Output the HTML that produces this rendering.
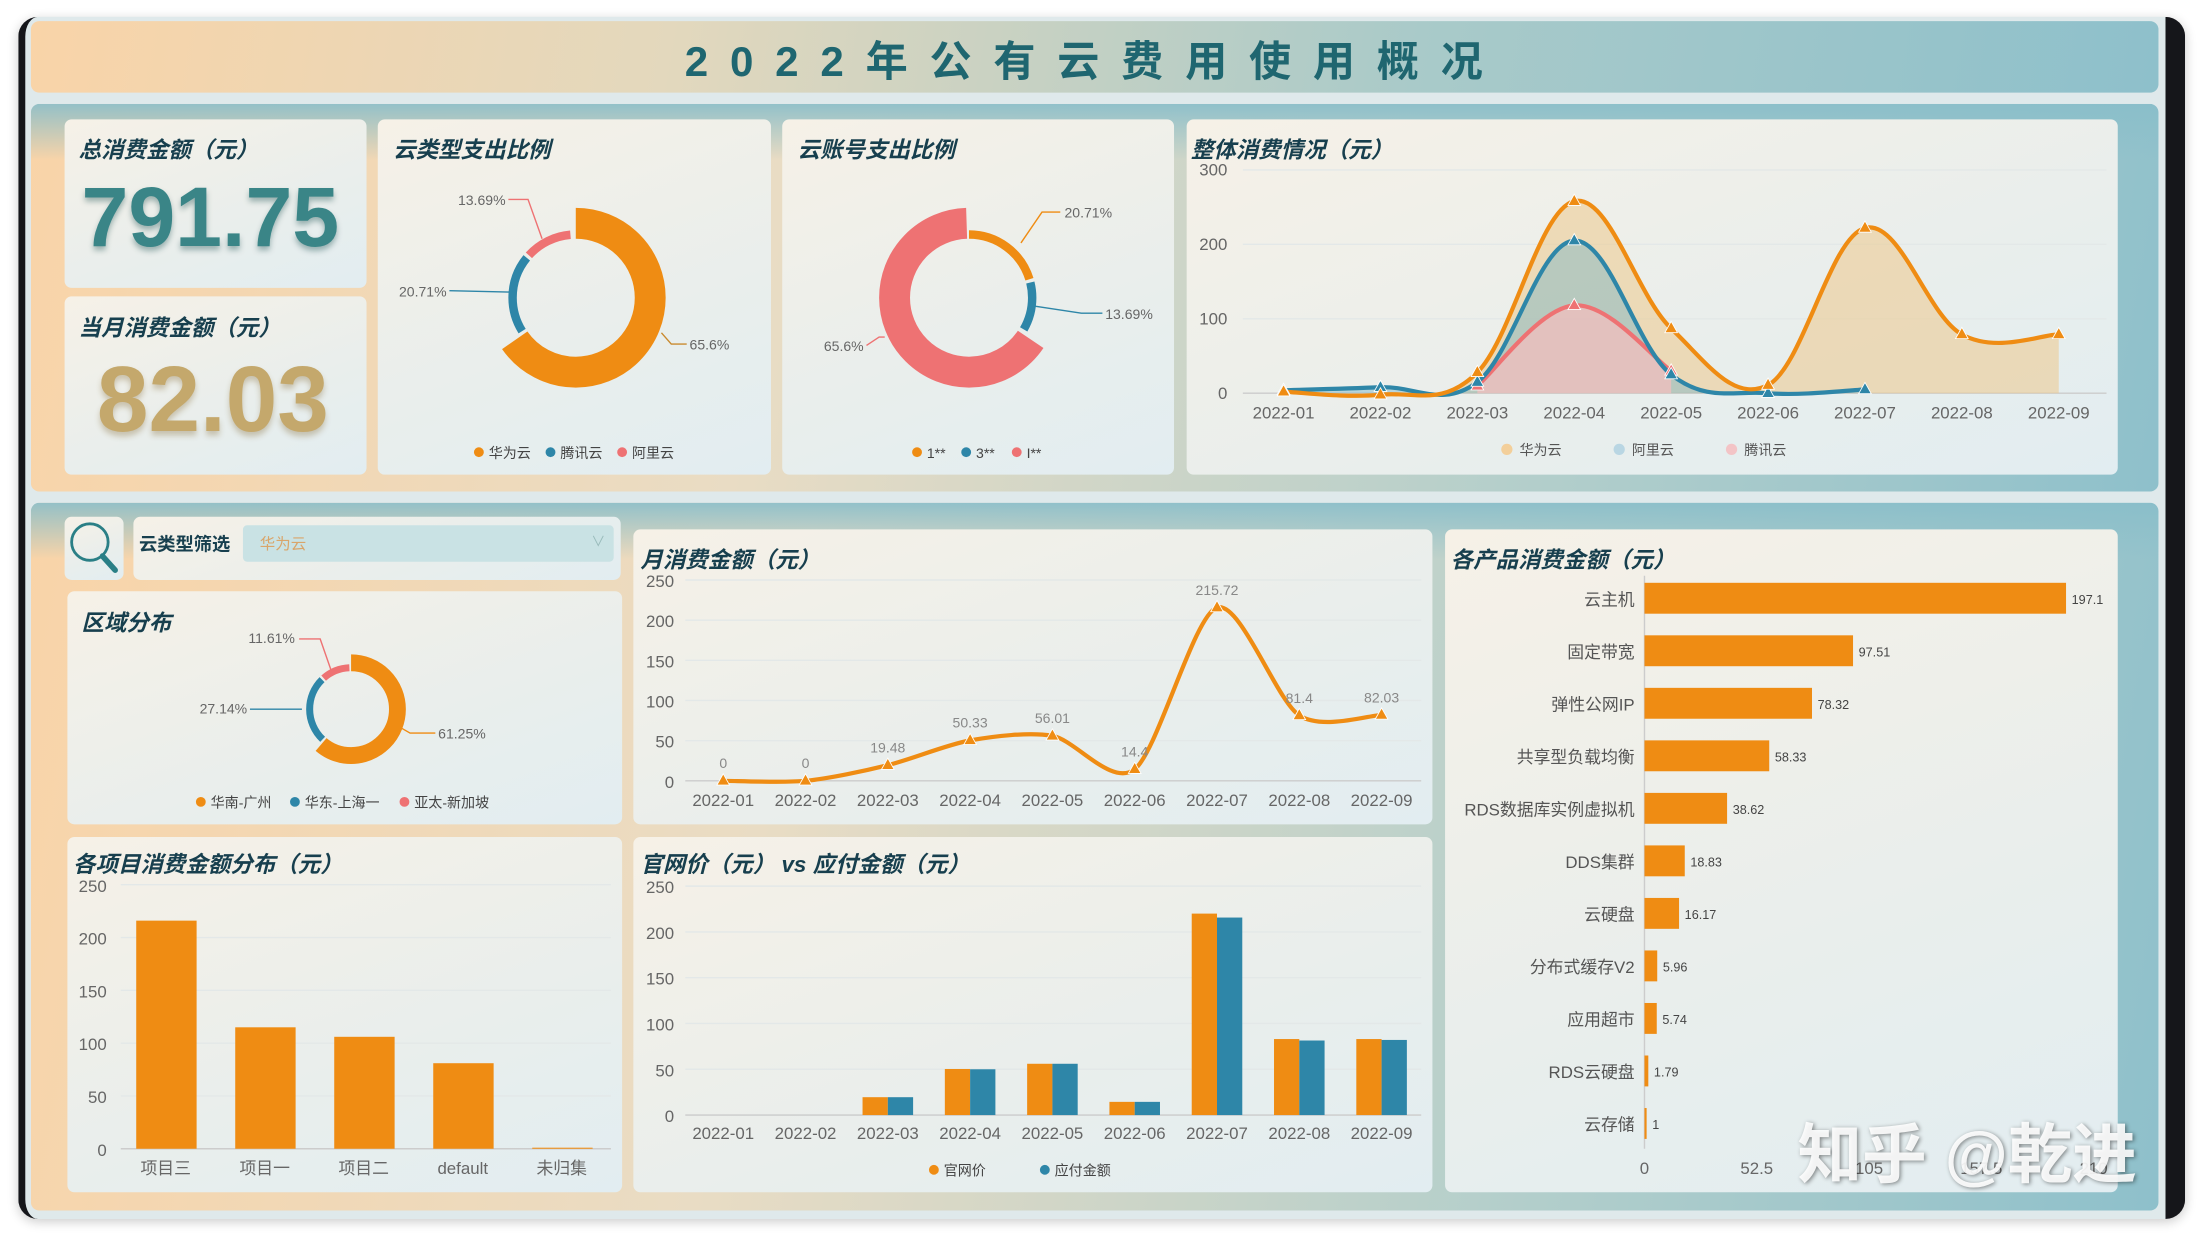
<!DOCTYPE html>
<html><head><meta charset="utf-8">
<style>
*{margin:0;padding:0;box-sizing:border-box}
body{width:2202px;height:1238px;background:#fff;overflow:hidden;font-family:"Liberation Sans","Noto Sans CJK SC",sans-serif}
#w{position:absolute;left:0;top:0;width:1568px;height:882px;transform:scale(1.40434);transform-origin:0 0}
.abs{position:absolute}
.frame{left:13px;top:12px;width:1543px;height:856px;background:#dfe9eb;border-radius:14px;border-left:5px solid #15161a;border-right:14px solid #15161a;box-shadow:0 2px 8px rgba(0,0,0,.2)}
.band{background:linear-gradient(100deg,#f9d4a8 0%,#ead9bf 35%,#b8cfca 70%,#8ec0cb 100%);border-radius:6px}
.band2{background:linear-gradient(180deg,rgba(137,190,202,.9) 0,rgba(137,190,202,0) 40px),linear-gradient(100deg,#f9d4a8 0%,#e9dcc4 35%,#b5cfcb 70%,#8ec0cb 100%);border-radius:6px}
.card{background:linear-gradient(160deg,#f6f1e7 0%,#e9eeec 60%,#e2edf1 100%);border-radius:5px}
.t{position:absolute;font-style:italic;font-weight:bold;color:#173f4e;font-size:16px;white-space:nowrap}
svg text{font-family:"Liberation Sans","Noto Sans CJK SC",sans-serif}
</style></head><body>
<div id="w">
<div class="abs frame"></div>
<div class="abs band" style="left:22px;top:15px;width:1515px;height:51px;background:linear-gradient(100deg,#f9d4a8 0%,#e3d8bd 30%,#a9cac9 65%,#8ec0cb 100%)"></div>
<div class="abs" style="left:22px;top:19px;width:1515px;text-align:center;font-size:30px;font-weight:bold;color:#1f6670;letter-spacing:15.5px">2022年公有云费用使用概况</div>
<div class="abs band2" style="left:22px;top:74px;width:1515px;height:276px"></div>
<div class="abs band2" style="left:22px;top:358px;width:1515px;height:504px"></div>

<div class="abs card" style="left:46px;top:85px;width:215px;height:120px"></div>
<div class="t" style="left:56px;top:93px">总消费金额（元）</div>
<div class="abs" style="left:58px;top:120px;font-size:60px;font-weight:bold;color:#3a8587;text-shadow:0 3px 4px rgba(0,60,60,.35)">791.75</div>
<div class="abs card" style="left:46px;top:211px;width:215px;height:127px"></div>
<div class="t" style="left:56px;top:220px">当月消费金额（元）</div>
<div class="abs" style="left:69px;top:246px;font-size:66px;font-weight:bold;color:#c4a86c;text-shadow:0 3px 4px rgba(120,90,30,.3)">82.03</div>

<div class="abs card" style="left:269px;top:85px;width:280px;height:253px"></div>
<div class="t" style="left:280px;top:93px">云类型支出比例</div>
<div class="abs card" style="left:557px;top:85px;width:279px;height:253px"></div>
<div class="t" style="left:568px;top:93px">云账号支出比例</div>
<div class="abs card" style="left:845px;top:85px;width:663px;height:253px"></div>
<div class="t" style="left:848px;top:93px">整体消费情况（元）</div>

<div class="abs card" style="left:46px;top:368px;width:42px;height:45px"></div>
<div class="abs card" style="left:95px;top:368px;width:347px;height:45px"></div>
<div class="abs" style="left:99px;top:377px;font-size:13px;font-weight:bold;color:#173f4e">云类型筛选</div>
<div class="abs" style="left:173px;top:374px;width:264px;height:26px;background:#c9e2e4;border-radius:3px"></div>
<div class="abs" style="left:185px;top:379px;font-size:11px;color:#d9a56a">华为云</div>
<div class="abs" style="left:421px;top:377px;font-size:10px;color:#9bb">∨</div>
<div class="abs card" style="left:48px;top:421px;width:395px;height:166px"></div>
<div class="t" style="left:58px;top:430px">区域分布</div>
<div class="abs card" style="left:451px;top:377px;width:569px;height:210px"></div>
<div class="t" style="left:456px;top:385px">月消费金额（元）</div>
<div class="abs card" style="left:48px;top:596px;width:395px;height:253px"></div>
<div class="t" style="left:52px;top:602px">各项目消费金额分布（元）</div>
<div class="abs card" style="left:451px;top:596px;width:569px;height:253px"></div>
<div class="t" style="left:456px;top:602px">官网价（元） vs 应付金额（元）</div>
<div class="abs card" style="left:1029px;top:377px;width:479px;height:472px"></div>
<div class="t" style="left:1033px;top:385px">各产品消费金额（元）</div>

<svg class="abs" style="left:0;top:0" width="1568" height="882" id="s">
<circle cx="64" cy="386" r="13" fill="none" stroke="#2a7f86" stroke-width="2"/>
<line x1="73" y1="396" x2="82" y2="406" stroke="#2a7f86" stroke-width="4" stroke-linecap="round"/>
</svg>
<div class="abs" style="left:1280px;top:786px;font-size:46px;font-weight:bold;color:rgba(255,255,255,.9);text-shadow:1px 1px 3px rgba(0,0,0,.45);white-space:nowrap">知乎 @乾进</div>
</div>
<script>
var s=document.getElementById('s'),h='';
var O='#ef8c13',B='#2e86a8',P='#ee7273',G='#666';
function tx(x,y,t,sz,c,a){h+='<text x="'+x+'" y="'+y+'" font-size="'+sz+'" fill="'+(c||G)+'" text-anchor="'+(a||'middle')+'">'+t+'</text>';}
function ln(x1,y1,x2,y2,c,w){h+='<line x1="'+x1+'" y1="'+y1+'" x2="'+x2+'" y2="'+y2+'" stroke="'+c+'" stroke-width="'+(w||1)+'"/>';}
function donut(cx,cy,segs){var C;segs.forEach(function(g){var r=(g[2]+g[3])/2,w=g[3]-g[2];C=2*Math.PI*r;var a0=g[0],a1=g[1];h+='<circle cx="'+cx+'" cy="'+cy+'" r="'+r+'" fill="none" stroke="'+g[4]+'" stroke-width="'+w+'" stroke-dasharray="'+(C*(a1-a0)/360)+' '+C+'" stroke-dashoffset="'+(-C*a0/360)+'" transform="rotate(-90 '+cx+' '+cy+')"/>';});}
function lab(pts,t,c,x,y,a){h+='<polyline points="'+pts+'" fill="none" stroke="'+c+'" stroke-width="1"/>';tx(x,y,t,10,G,a);}
function leg(items,y){items.forEach(function(it){h+='<circle cx="'+it[0]+'" cy="'+y+'" r="3.5" fill="'+it[2]+'"/>';tx(it[0]+7,y+4,it[1],10,'#444','start');});}
donut(410,212,[[0,235,42,64,O],[238,309,42,48,B],[312,355,42,48,P]]);
lab('362,142 376,142 386,170','13.69%',P,360,146,'end');
lab('320,207 365,208','20.71%',B,318,211,'end');
lab('471,237 478,245 489,245','65.6%','#c98a2e',491,249,'start');
leg([[341,'华为云',O],[392,'腾讯云',B],[443,'阿里云',P]],322);
donut(690,212,[[0,73,42,48,O],[76,120,42,48,B],[124,358,42,64,P]]);
lab('727,173 742,151 755,151','20.71%',O,758,155,'start');
lab('737,218 770,223 785,223','13.69%',B,787,227,'start');
lab('617,246 626,240 630,240','65.6%',P,615,250,'end');
leg([[653,'1**',O],[688,'3**',B],[724,'I**',P]],322);
donut(250,505,[[0,220,27,39,O],[223,315,27,32,B],[318,357,27,32,P]]);
lab('213,455 228,455 236,478','11.61%',P,210,458,'end');
lab('178,505 215,505','27.14%',B,176,508,'end');
lab('285,518 292,522 310,522','61.25%',O,312,526,'start');
leg([[143,'华南-广州',O],[210,'华东-上海一',B],[288,'亚太-新加坡',P]],571);
function sm(p,kk){var d='M'+p[0][0]+','+p[0][1];for(var i=0;i<p.length-1;i++){var p0=p[i-1]||p[i],p1=p[i],p2=p[i+1],p3=p[i+2]||p2,k=kk||0.18;d+=' C'+(p1[0]+(p2[0]-p0[0])*k)+','+(p1[1]+(p2[1]-p0[1])*k)+' '+(p2[0]-(p3[0]-p1[0])*k)+','+(p2[1]-(p3[1]-p1[1])*k)+' '+p2[0]+','+p2[1];}return d;}
function tri(x,y,c){h+='<path d="M'+x+','+(y-5)+' L'+(x+4.5)+','+(y+3)+' L'+(x-4.5)+','+(y+3)+'Z" fill="'+c+'" stroke="#fff" stroke-width=".6"/>';}
var y0=280,k=0.53;
[0,100,200,300].forEach(function(v){var y=y0-v*k;ln(885,y,1500,y,'#e3e8e8');tx(874,y+4,v,12,G,'end');});
ln(885,y0,1500,y0,'#ccc');
var mo=['2022-01','2022-02','2022-03','2022-04','2022-05','2022-06','2022-07','2022-08','2022-09'];
function serie(start,vals,c,fill,xs,x0,yy,kk){var p=vals.map(function(v,i){return[x0+(start+i)*xs,yy-v*kk];});var d=sm(p);h+='<path d="'+d+' L'+p[p.length-1][0]+','+yy+' L'+p[0][0]+','+yy+'Z" fill="'+fill+'"/>';return p;}
var po=serie(0,[2,-2,28,258,87,11,222,79,79],O,'rgba(236,200,140,.55)',69,914,y0,k);
var pb=serie(0,[4,8,15,205,25,0,5],B,'rgba(120,180,200,.45)',69,914,y0,k);
var pp=serie(2,[10,118,30],P,'rgba(245,190,190,.7)',69,914,y0,k);
[[pp,P],[pb,B],[po,O]].forEach(function(q){h+='<path d="'+sm(q[0])+'" fill="none" stroke="'+q[1]+'" stroke-width="3"/>';});
[[pp,P],[pb,B],[po,O]].forEach(function(q){q[0].forEach(function(p){tri(p[0],p[1],q[1]);});});
mo.forEach(function(m,i){tx(914+69*i,298,m,12,G);});
[[1073,'华为云','#f3cf9a'],[1153,'阿里云','#b9d6e3'],[1233,'腾讯云','#f3c4c6']].forEach(function(it){h+='<circle cx="'+it[0]+'" cy="320" r="4" fill="'+it[2]+'"/>';tx(it[0]+9,324,it[1],10,'#555','start');});
y0=556;k=0.572;
[0,50,100,150,200,250].forEach(function(v){var y=y0-v*k;ln(488,y,1012,y,'#e3e8e8');tx(480,y+5,v,12,G,'end');});
ln(488,y0,1012,y0,'#ccc');
var mv=[0,0,19.48,50.33,56.01,14.4,215.72,81.4,82.03];
var pm=mv.map(function(v,i){return[515+58.6*i,y0-v*k];});
h+='<path d="'+sm(pm,0.14)+'" fill="none" stroke="'+O+'" stroke-width="3"/>';
pm.forEach(function(p,i){tri(p[0],p[1],O);tx(p[0],p[1]-9,mv[i],10,'#888');tx(p[0],574,mo[i],12,G);});
y0=818;k=0.752;
[0,50,100,150,200,250].forEach(function(v){var y=y0-v*k;ln(86,y,435,y,'#e3e8e8');tx(76,y+5,v,12,G,'end');});
ln(86,y0,435,y0,'#ccc');
[['项目三',216],['项目一',115],['项目二',106],['default',81],['未归集',1]].forEach(function(b,i){var x=118+70.5*i;h+='<rect x="'+(x-21)+'" y="'+(y0-b[1]*k)+'" width="43" height="'+(b[1]*k)+'" fill="'+O+'"/>';tx(x,836,b[0],12,G);});
y0=794;k=0.652;
[0,50,100,150,200,250].forEach(function(v){var y=y0-v*k;ln(488,y,1012,y,'#e3e8e8');tx(480,y+5,v,12,G,'end');});
ln(488,y0,1012,y0,'#ccc');
var ov=[0,0,19.5,50.3,56,14.4,220,83,83],bv=[0,0,19.5,50,56,14.4,215.7,81.4,82.03];
mo.forEach(function(m,i){var x=515+58.6*i;h+='<rect x="'+(x-18)+'" y="'+(y0-ov[i]*k)+'" width="18" height="'+(ov[i]*k)+'" fill="'+O+'"/>';h+='<rect x="'+x+'" y="'+(y0-bv[i]*k)+'" width="18" height="'+(bv[i]*k)+'" fill="'+B+'"/>';tx(x,811,m,12,G);});
leg([[665,'官网价',O],[744,'应付金额',B]],833);
var pr=[['云主机',197.1],['固定带宽',97.51],['弹性公网IP',78.32],['共享型负载均衡',58.33],['RDS数据库实例虚拟机',38.62],['DDS集群',18.83],['云硬盘',16.17],['分布式缓存V2',5.96],['应用超市',5.74],['RDS云硬盘',1.79],['云存储',1]];
ln(1171,410,1171,818,'#ccc');
pr.forEach(function(p,i){var y=426+37.4*i,w=p[1]*1.523;h+='<rect x="1171" y="'+(y-11)+'" width="'+w+'" height="22" fill="'+O+'"/>';tx(1164,y+5,p[0],12,'#555','end');tx(1171+w+4,y+4,p[1],9,'#444','start');});
[0,52.5,105,157.5,210].forEach(function(v,i){tx(1171+v*1.523,836,v,12,G);});
s.innerHTML+=h;
</script>
</body></html>
